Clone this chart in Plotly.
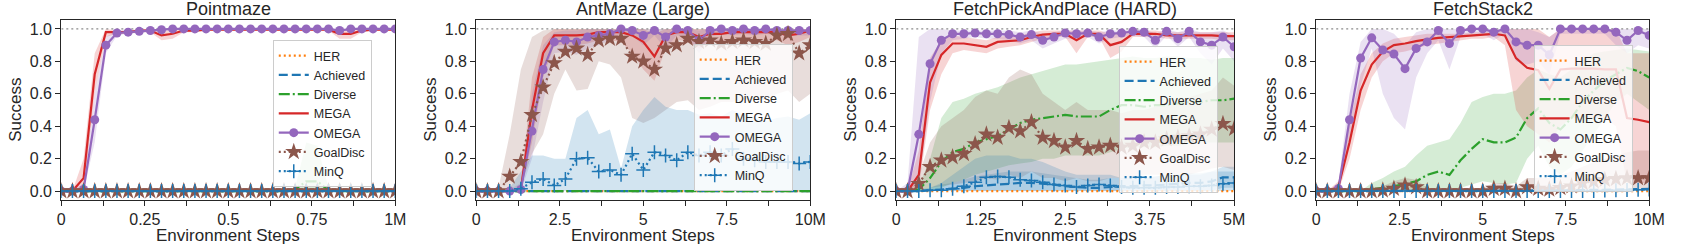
import plotly.graph_objects as go

# ---------------- data (success rate) ----------------
TITLES = ["Pointmaze", "AntMaze (Large)", "FetchPickAndPlace (HARD)", "FetchStack2"]
METHODS = ["HER", "Achieved", "Diverse", "MEGA", "OMEGA", "GoalDisc", "MinQ"]
X_MAX = [1.0, 10.0, 5.0, 10.0]          # millions of environment steps
N_POINTS = 31

X_TICKTEXT_1 = ["0", "", "0.25", "", "0.5", "", "0.75", "", "1M"]
X_TICKTEXT_2 = ["0", "", "2.5", "", "5", "", "7.5", "", "10M"]
X_TICKTEXT_3 = ["0", "", "1.25", "", "2.5", "", "3.75", "", "5M"]
X_TICKTEXT_4 = ["0", "", "2.5", "", "5", "", "7.5", "", "10M"]
Y_TICKVALS = [0.0, 0.2, 0.4, 0.6, 0.8, 1.0]
Y_TICKTEXT = ["0.0", "0.2", "0.4", "0.6", "0.8", "1.0"]

ZERO_31 = [0, 0, 0, 0, 0, 0, 0, 0, 0, 0, 0, 0, 0, 0, 0, 0, 0, 0, 0, 0, 0, 0, 0, 0, 0, 0, 0, 0, 0, 0, 0]

# ---- Pointmaze
P1_DIVERSE = [0, 0, 0, 0, 0, 0, 0, 0, 0, 0, 0, 0, 0, 0, 0, 0, 0, 0, 0, 0, 0, 0.01, 0.06, 0.06, 0.005, 0, 0, 0, 0, 0, 0]
P1_DIVERSE_HI = [0, 0, 0, 0, 0, 0, 0, 0, 0, 0, 0, 0, 0, 0, 0, 0, 0, 0, 0, 0, 0, 0.02, 0.3, 0.28, 0.02, 0, 0, 0, 0, 0, 0]
P1_MEGA = [0, 0, 0.08, 0.72, 0.98, 0.98, 0.98, 0.99, 0.99, 0.96, 0.97, 0.99, 0.99, 0.995, 0.995, 0.995, 0.995, 0.995, 0.995, 0.995, 0.995, 0.995, 0.995, 0.995, 0.995, 0.97, 0.97, 0.99, 0.995, 0.995, 0.995]
P1_MEGA_LO = [0, 0, 0.0, 0.6, 0.95, 0.97, 0.97, 0.98, 0.98, 0.93, 0.94, 0.98, 0.98, 0.99, 0.99, 0.99, 0.99, 0.99, 0.99, 0.99, 0.99, 0.99, 0.99, 0.99, 0.99, 0.94, 0.94, 0.98, 0.99, 0.99, 0.99]
P1_MEGA_HI = [0, 0, 0.2, 0.85, 1.0, 0.99, 0.99, 1.0, 1.0, 0.99, 0.99, 1.0, 1.0, 1.0, 1.0, 1.0, 1.0, 1.0, 1.0, 1.0, 1.0, 1.0, 1.0, 1.0, 1.0, 1.0, 1.0, 1.0, 1.0, 1.0, 1.0]
P1_OMEGA = [0, 0, 0.01, 0.44, 0.90, 0.975, 0.98, 0.985, 0.99, 0.995, 1.0, 1.0, 1.0, 1.0, 1.0, 1.0, 1.0, 1.0, 1.0, 1.0, 1.0, 1.0, 1.0, 1.0, 1.0, 0.99, 1.0, 1.0, 1.0, 1.0, 1.0]
P1_OMEGA_LO = [0, 0, 0, 0.3, 0.85, 0.96, 0.97, 0.975, 0.98, 0.99, 0.995, 0.995, 0.995, 0.995, 0.995, 0.995, 0.995, 0.995, 0.995, 0.995, 0.995, 0.995, 0.995, 0.995, 0.995, 0.98, 0.995, 0.995, 0.995, 0.995, 0.995]
P1_OMEGA_HI = [0, 0, 0.05, 0.6, 0.95, 0.99, 0.99, 0.995, 1.0, 1.0, 1.0, 1.0, 1.0, 1.0, 1.0, 1.0, 1.0, 1.0, 1.0, 1.0, 1.0, 1.0, 1.0, 1.0, 1.0, 1.0, 1.0, 1.0, 1.0, 1.0, 1.0]

# ---- AntMaze (Large)
P2_MEGA = [0, 0, 0, 0, 0.01, 0.5, 0.85, 0.96, 0.96, 0.96, 0.965, 0.98, 0.98, 0.98, 0.96, 0.92, 0.83, 0.96, 0.98, 0.98, 0.95, 0.97, 0.97, 0.98, 0.98, 0.98, 0.98, 0.98, 0.96, 0.97, 0.99]
P2_MEGA_LO = [0, 0, 0, 0, 0, 0.3, 0.7, 0.9, 0.9, 0.9, 0.91, 0.93, 0.93, 0.92, 0.85, 0.75, 0.68, 0.88, 0.93, 0.93, 0.88, 0.92, 0.92, 0.93, 0.93, 0.93, 0.93, 0.93, 0.9, 0.92, 0.95]
P2_MEGA_HI = [0, 0, 0, 0, 0.03, 0.7, 0.95, 1, 1, 1, 1, 1, 1, 1, 1, 1, 0.97, 1, 1, 1, 1, 1, 1, 1, 1, 1, 1, 1, 1, 1, 1]
P2_OMEGA = [0, 0, 0, 0, 0.01, 0.37, 0.75, 0.92, 0.93, 0.92, 0.95, 0.96, 0.97, 1.0, 0.99, 0.96, 0.99, 0.95, 1.0, 0.99, 0.93, 0.99, 1.0, 0.99, 1.0, 0.99, 1.0, 0.99, 0.99, 0.99, 0.99]
P2_OMEGA_LO = [0, 0, 0, 0, 0, 0.2, 0.55, 0.85, 0.86, 0.84, 0.88, 0.9, 0.93, 0.97, 0.96, 0.9, 0.96, 0.88, 0.96, 0.95, 0.85, 0.95, 0.97, 0.96, 0.97, 0.96, 0.97, 0.96, 0.96, 0.96, 0.96]
P2_OMEGA_HI = [0, 0, 0, 0.01, 0.05, 0.6, 0.9, 0.98, 0.99, 0.99, 1, 1, 1, 1, 1, 1, 1, 1, 1, 1, 0.99, 1, 1, 1, 1, 1, 1, 1, 1, 1, 1]
P2_GOALDISC = [0, 0, 0, 0.09, 0.18, 0.47, 0.64, 0.79, 0.86, 0.88, 0.84, 0.93, 0.94, 0.94, 0.83, 0.80, 0.75, 0.88, 0.90, 0.94, 0.92, 0.93, 0.91, 0.92, 0.93, 0.92, 0.91, 0.96, 0.97, 0.85, 0.90]
P2_GOALDISC_LO = [0, 0, 0, 0, 0.03, 0.23, 0.35, 0.6, 0.75, 0.62, 0.63, 0.8, 0.78, 0.7, 0.45, 0.42, 0.45, 0.5, 0.55, 0.56, 0.5, 0.52, 0.55, 0.55, 0.56, 0.57, 0.56, 0.6, 0.62, 0.55, 0.6]
P2_GOALDISC_HI = [0, 0, 0.02, 0.35, 0.75, 0.95, 0.99, 1, 1, 1, 1, 1, 1, 1, 1, 1, 1, 1, 1, 1, 1, 1, 1, 1, 1, 1, 1, 1, 1, 1, 1]
P2_MINQ = [0, 0, 0, 0, 0.015, 0.055, 0.075, 0.035, 0.075, 0.2, 0.205, 0.12, 0.13, 0.10, 0.23, 0.13, 0.24, 0.22, 0.19, 0.24, 0.22, 0.24, 0.22, 0.26, 0.2, 0.19, 0.18, 0.18, 0.18, 0.17, 0.18]
P2_MINQ_HI = [0, 0, 0, 0.02, 0.12, 0.22, 0.22, 0.2, 0.2, 0.45, 0.5, 0.35, 0.38, 0.14, 0.4, 0.5, 0.58, 0.52, 0.5, 0.5, 0.47, 0.48, 0.46, 0.5, 0.47, 0.45, 0.43, 0.45, 0.46, 0.44, 0.48]

# ---- FetchPickAndPlace (HARD)
P3_ACHIEVED = [0, 0, 0, 0.005, 0.01, 0.015, 0.02, 0.03, 0.035, 0.04, 0.045, 0.05, 0.05, 0.045, 0.04, 0.03, 0.025, 0.02, 0.02, 0.025, 0.03, 0.03, 0.035, 0.035, 0.04, 0.045, 0.05, 0.05, 0.06, 0.085, 0.085]
P3_ACHIEVED_LO = [0, 0, 0, 0, 0, 0, 0, 0, 0, 0, 0, 0, 0, 0, 0, 0, 0, 0, 0, 0, 0, 0, 0, 0, 0, 0, 0, 0, 0, 0.02, 0.02]
P3_ACHIEVED_HI = [0, 0, 0, 0.02, 0.04, 0.05, 0.07, 0.09, 0.1, 0.11, 0.12, 0.12, 0.12, 0.11, 0.1, 0.09, 0.08, 0.07, 0.07, 0.08, 0.08, 0.08, 0.09, 0.09, 0.1, 0.1, 0.11, 0.11, 0.12, 0.15, 0.15]
P3_DIVERSE = [0, 0, 0.01, 0.08, 0.18, 0.24, 0.26, 0.3, 0.32, 0.34, 0.38, 0.42, 0.44, 0.45, 0.46, 0.47, 0.46, 0.46, 0.46, 0.5, 0.53, 0.53, 0.52, 0.53, 0.53, 0.54, 0.55, 0.55, 0.56, 0.56, 0.57]
P3_DIVERSE_LO = [0, 0, 0, 0, 0.02, 0.05, 0.07, 0.1, 0.12, 0.14, 0.16, 0.17, 0.18, 0.2, 0.2, 0.22, 0.22, 0.22, 0.22, 0.24, 0.26, 0.27, 0.27, 0.27, 0.28, 0.28, 0.29, 0.3, 0.3, 0.3, 0.3]
P3_DIVERSE_HI = [0, 0, 0.03, 0.2, 0.45, 0.55, 0.57, 0.6, 0.62, 0.64, 0.67, 0.7, 0.72, 0.74, 0.76, 0.78, 0.78, 0.79, 0.8, 0.81, 0.82, 0.83, 0.82, 0.82, 0.83, 0.83, 0.82, 0.82, 0.81, 0.82, 0.82]
P3_MEGA = [0, 0, 0.1, 0.67, 0.84, 0.91, 0.91, 0.9, 0.89, 0.92, 0.925, 0.93, 0.95, 0.965, 0.97, 0.97, 0.93, 0.97, 0.97, 0.9, 0.92, 0.97, 0.97, 0.97, 0.96, 0.96, 0.96, 0.96, 0.96, 0.955, 0.955]
P3_MEGA_LO = [0, 0, 0.02, 0.5, 0.72, 0.85, 0.87, 0.86, 0.85, 0.88, 0.89, 0.9, 0.92, 0.94, 0.95, 0.95, 0.85, 0.95, 0.95, 0.82, 0.86, 0.95, 0.95, 0.95, 0.94, 0.94, 0.94, 0.94, 0.94, 0.93, 0.93]
P3_MEGA_HI = [0, 0, 0.25, 0.82, 0.93, 0.96, 0.95, 0.94, 0.93, 0.95, 0.96, 0.96, 0.98, 0.99, 0.99, 0.99, 0.99, 0.99, 0.99, 0.97, 0.98, 0.99, 0.99, 0.99, 0.98, 0.98, 0.98, 0.98, 0.98, 0.98, 0.98]
P3_OMEGA = [0, 0, 0.35, 0.785, 0.93, 0.97, 0.97, 0.975, 0.97, 0.97, 0.965, 0.95, 0.965, 0.93, 0.95, 0.975, 0.97, 0.975, 0.95, 0.97, 0.975, 0.985, 0.98, 0.93, 0.985, 0.94, 0.985, 0.92, 0.9, 0.95, 0.89]
P3_OMEGA_LO = [0, 0, 0.05, 0.55, 0.85, 0.93, 0.94, 0.95, 0.94, 0.94, 0.93, 0.91, 0.93, 0.88, 0.91, 0.94, 0.94, 0.95, 0.91, 0.94, 0.95, 0.96, 0.95, 0.88, 0.96, 0.89, 0.95, 0.85, 0.78, 0.88, 0.8]
P3_OMEGA_HI = [0, 0.05, 0.95, 1, 1, 0.99, 0.99, 0.99, 0.99, 0.99, 0.99, 0.98, 0.99, 0.97, 0.98, 0.99, 0.99, 0.99, 0.98, 0.99, 0.99, 1, 1, 0.97, 1, 0.98, 1, 0.98, 0.98, 0.99, 0.96]
P3_GOALDISC = [0, 0, 0.045, 0.15, 0.19, 0.21, 0.23, 0.29, 0.35, 0.33, 0.39, 0.37, 0.425, 0.33, 0.31, 0.27, 0.31, 0.26, 0.27, 0.28, 0.27, 0.28, 0.3, 0.3, 0.32, 0.33, 0.34, 0.35, 0.38, 0.415, 0.385]
P3_GOALDISC_LO = [0, 0, 0, 0.02, 0.03, 0.04, 0.05, 0.06, 0.08, 0.07, 0.1, 0.08, 0.12, 0.08, 0.08, 0.06, 0.08, 0.06, 0.06, 0.08, 0.08, 0.08, 0.1, 0.1, 0.1, 0.1, 0.1, 0.12, 0.14, 0.15, 0.13]
P3_GOALDISC_HI = [0, 0, 0.1, 0.3, 0.4, 0.45, 0.5, 0.58, 0.62, 0.6, 0.7, 0.75, 0.72, 0.6, 0.55, 0.5, 0.55, 0.5, 0.5, 0.5, 0.48, 0.5, 0.5, 0.52, 0.55, 0.55, 0.58, 0.6, 0.62, 0.7, 0.65]
P3_MINQ = [0, 0, 0, 0.005, 0.005, 0.015, 0.03, 0.055, 0.085, 0.09, 0.085, 0.07, 0.065, 0.055, 0.04, 0.035, 0.025, 0.035, 0.04, 0.035, 0.025, 0.02, 0.02, 0.02, 0.025, 0.025, 0.03, 0.03, 0.035, 0.045, 0.05]
P3_MINQ_HI = [0, 0, 0.01, 0.02, 0.05, 0.1, 0.15, 0.2, 0.22, 0.22, 0.22, 0.2, 0.2, 0.18, 0.15, 0.12, 0.1, 0.1, 0.1, 0.1, 0.08, 0.08, 0.08, 0.09, 0.1, 0.1, 0.1, 0.1, 0.12, 0.12, 0.12]

# ---- FetchStack2
P4_ACHIEVED = [0, 0, 0, 0, 0, 0, 0, 0, 0, 0, 0, 0, 0, 0, 0, 0, 0, 0, 0, 0, 0.002, 0.003, 0.004, 0.005, 0.006, 0.008, 0.01, 0.01, 0.012, 0.012, 0.013]
P4_DIVERSE = [0, 0, 0, 0, 0, 0.01, 0.02, 0.03, 0.045, 0.06, 0.1, 0.12, 0.1, 0.19, 0.26, 0.32, 0.3, 0.3, 0.33, 0.45, 0.51, 0.42, 0.38, 0.45, 0.55, 0.62, 0.68, 0.72, 0.76, 0.74, 0.7]
P4_DIVERSE_LO = [0, 0, 0, 0, 0, 0, 0, 0, 0, 0, 0, 0, 0, 0.02, 0.04, 0.06, 0.05, 0.04, 0.05, 0.2, 0.28, 0.15, 0.1, 0.15, 0.25, 0.35, 0.45, 0.55, 0.6, 0.55, 0.5]
P4_DIVERSE_HI = [0, 0, 0, 0, 0, 0.05, 0.08, 0.12, 0.15, 0.22, 0.28, 0.3, 0.32, 0.42, 0.55, 0.58, 0.6, 0.6, 0.62, 0.7, 0.75, 0.72, 0.7, 0.75, 0.8, 0.85, 0.86, 0.87, 0.88, 0.87, 0.86]
P4_MEGA = [0, 0, 0.025, 0.3, 0.62, 0.78, 0.86, 0.9, 0.91, 0.925, 0.935, 0.945, 0.95, 0.955, 0.96, 0.965, 0.97, 0.96, 0.82, 0.76, 0.745, 0.63, 0.75, 0.755, 0.755, 0.755, 0.75, 0.75, 0.45, 0.44, 0.425]
P4_MEGA_LO = [0, 0, 0, 0.2, 0.5, 0.7, 0.8, 0.85, 0.86, 0.88, 0.9, 0.91, 0.92, 0.93, 0.94, 0.94, 0.95, 0.9, 0.5, 0.4, 0.35, 0.3, 0.4, 0.45, 0.45, 0.45, 0.45, 0.4, 0.05, 0.05, 0.05]
P4_MEGA_HI = [0, 0, 0.06, 0.42, 0.72, 0.85, 0.91, 0.94, 0.95, 0.96, 0.97, 0.97, 0.97, 0.97, 0.98, 0.98, 0.99, 1, 1, 1, 1, 0.95, 1, 1, 1, 1, 1, 1, 0.85, 0.85, 0.85]
P4_OMEGA = [0, 0, 0.015, 0.44, 0.82, 0.945, 0.87, 0.845, 0.755, 0.88, 0.92, 0.99, 0.91, 0.99, 1.0, 1.0, 0.98, 1.0, 0.92, 0.9, 0.9, 0.84, 1.0, 1.0, 1.0, 1.0, 1.0, 0.98, 0.93, 0.99, 0.96]
P4_OMEGA_LO = [0, 0, 0, 0.3, 0.65, 0.88, 0.6, 0.45, 0.38, 0.7, 0.85, 0.93, 0.75, 0.95, 0.97, 0.97, 0.93, 0.97, 0.8, 0.78, 0.8, 0.72, 0.97, 0.97, 0.97, 0.97, 0.97, 0.9, 0.85, 0.9, 0.88]
P4_OMEGA_HI = [0, 0, 0.05, 0.6, 0.92, 1, 1, 0.97, 0.9, 0.98, 1, 1, 1, 1, 1, 1, 1, 1, 1, 1, 0.98, 0.95, 1, 1, 1, 1, 1, 1, 1, 1, 1]
P4_GOALDISC = [0, 0, 0, 0, 0, 0, 0.005, 0.015, 0.035, 0.025, 0, 0, 0, 0, 0, 0, 0.015, 0.015, 0, 0.025, 0.015, 0.01, 0.02, 0.03, 0.05, 0.06, 0.07, 0.075, 0.08, 0.08, 0.08]
P4_GOALDISC_HI = [0, 0, 0, 0, 0, 0.01, 0.03, 0.06, 0.08, 0.07, 0.02, 0.01, 0.01, 0.01, 0.01, 0.02, 0.05, 0.05, 0.03, 0.08, 0.08, 0.08, 0.1, 0.12, 0.15, 0.18, 0.2, 0.22, 0.24, 0.25, 0.25]
P4_MINQ = [0, 0, 0, 0, 0, 0, 0, 0, 0, 0, 0, 0, 0, 0, 0, 0, 0, 0, 0, 0, 0, 0, 0, 0, 0, 0, 0.003, 0.005, 0.006, 0.008, 0.01]

# table: panel -> method -> (mean, low, high) ; None band = no shading
PANELS = [
    {
        "HER": (ZERO_31, None, None),
        "Achieved": (ZERO_31, None, None),
        "Diverse": (P1_DIVERSE, ZERO_31, P1_DIVERSE_HI),
        "MEGA": (P1_MEGA, P1_MEGA_LO, P1_MEGA_HI),
        "OMEGA": (P1_OMEGA, P1_OMEGA_LO, P1_OMEGA_HI),
        "GoalDisc": (ZERO_31, None, None),
        "MinQ": (ZERO_31, None, None),
    },
    {
        "HER": (ZERO_31, None, None),
        "Achieved": (ZERO_31, None, None),
        "Diverse": (ZERO_31, None, None),
        "MEGA": (P2_MEGA, P2_MEGA_LO, P2_MEGA_HI),
        "OMEGA": (P2_OMEGA, P2_OMEGA_LO, P2_OMEGA_HI),
        "GoalDisc": (P2_GOALDISC, P2_GOALDISC_LO, P2_GOALDISC_HI),
        "MinQ": (P2_MINQ, ZERO_31, P2_MINQ_HI),
    },
    {
        "HER": (ZERO_31, None, None),
        "Achieved": (P3_ACHIEVED, P3_ACHIEVED_LO, P3_ACHIEVED_HI),
        "Diverse": (P3_DIVERSE, P3_DIVERSE_LO, P3_DIVERSE_HI),
        "MEGA": (P3_MEGA, P3_MEGA_LO, P3_MEGA_HI),
        "OMEGA": (P3_OMEGA, P3_OMEGA_LO, P3_OMEGA_HI),
        "GoalDisc": (P3_GOALDISC, P3_GOALDISC_LO, P3_GOALDISC_HI),
        "MinQ": (P3_MINQ, ZERO_31, P3_MINQ_HI),
    },
    {
        "HER": (ZERO_31, None, None),
        "Achieved": (P4_ACHIEVED, None, None),
        "Diverse": (P4_DIVERSE, P4_DIVERSE_LO, P4_DIVERSE_HI),
        "MEGA": (P4_MEGA, P4_MEGA_LO, P4_MEGA_HI),
        "OMEGA": (P4_OMEGA, P4_OMEGA_LO, P4_OMEGA_HI),
        "GoalDisc": (P4_GOALDISC, ZERO_31, P4_GOALDISC_HI),
        "MinQ": (P4_MINQ, None, None),
    },
]
X_TICKTEXTS = [X_TICKTEXT_1, X_TICKTEXT_2, X_TICKTEXT_3, X_TICKTEXT_4]

# ---------------- styling ----------------
W, H = 1683, 249
FONT = "Liberation Sans, Arial, Helvetica, sans-serif"
TXT = "#262626"
COLORS = {"HER": "#ff7f0e", "Achieved": "#1f77b4", "Diverse": "#2ca02c", "MEGA": "#d62728",
          "OMEGA": "#9467bd", "GoalDisc": "#8c564b", "MinQ": "#1f77b4"}
FILLS = {"HER": "rgba(255,127,14,0.2)", "Achieved": "rgba(31,119,180,0.2)", "Diverse": "rgba(44,160,44,0.2)",
         "MEGA": "rgba(214,39,40,0.2)", "OMEGA": "rgba(148,103,189,0.2)", "GoalDisc": "rgba(140,86,75,0.2)",
         "MinQ": "rgba(31,119,180,0.2)"}
DASH = {"HER": "2px,3px", "Achieved": "9px,4px", "Diverse": "11px,3px,2px,3px", "MEGA": "solid",
        "OMEGA": "solid", "GoalDisc": "2px,3px", "MinQ": "2px,3px"}
SYMBOL = {"OMEGA": ("circle", 9), "GoalDisc": ("star", 13), "MinQ": ("cross-thin", 10)}

PLOT_LEFT = [58, 478, 903, 1328]
PLOT_RIGHT = [396, 816, 1245, 1665]
PLOT_TOP, PLOT_BOTTOM = 20, 200
LEGEND_POS = [(272, 40), (698, 44), (1128, 46), (1548, 45)]

fig = go.Figure()
ydom = [1 - PLOT_BOTTOM / H, 1 - PLOT_TOP / H]

for p in range(4):
    k = "" if p == 0 else str(p + 1)
    xs = [X_MAX[p] * i / (N_POINTS - 1) for i in range(N_POINTS)]
    legname = "legend" + k
    data = PANELS[p]
    # bands
    for m in METHODS:
        mean, lo, hi = data[m]
        if lo is None:
            continue
        fig.add_trace(go.Scatter(
            x=xs + xs[::-1], y=list(hi) + list(lo)[::-1], fill="toself", fillcolor=FILLS[m],
            line=dict(width=0), mode="lines", hoverinfo="skip", showlegend=False,
            xaxis="x" + k, yaxis="y" + k))
    # reference line at 1.0
    fig.add_trace(go.Scatter(x=[0, X_MAX[p]], y=[1.0, 1.0], mode="lines",
                             line=dict(color="#8c8c8c", width=1.2, dash="2px,3px"),
                             showlegend=False, hoverinfo="skip", xaxis="x" + k, yaxis="y" + k))
    # lines
    for m in METHODS:
        mean = data[m][0]
        kw = dict(x=xs, y=mean, name=m, legend=legname, showlegend=True,
                  line=dict(color=COLORS[m], width=2.2, dash=DASH[m]),
                  xaxis="x" + k, yaxis="y" + k)
        if m in SYMBOL:
            sym, sz = SYMBOL[m]
            if sym == "cross-thin":
                kw["marker"] = dict(symbol=sym, size=sz, color=COLORS[m],
                                    line=dict(color=COLORS[m], width=1.5))
            else:
                kw["marker"] = dict(symbol=sym, size=sz, color=COLORS[m], line=dict(width=0))
            kw["mode"] = "lines+markers"
        else:
            kw["mode"] = "lines"
        fig.add_trace(go.Scatter(**kw))

    axis_common = dict(showline=True, linecolor=TXT, linewidth=1.2, mirror=True, ticks="outside",
                       ticklen=5, tickwidth=1.2, tickcolor=TXT, showgrid=False, zeroline=False,
                       tickfont=dict(family=FONT, size=16, color=TXT))
    xdom = [PLOT_LEFT[p] / W, PLOT_RIGHT[p] / W]
    fig.update_layout(**{
        "xaxis" + k: dict(domain=xdom, range=[0, X_MAX[p]], anchor="y" + k,
                          tickvals=[X_MAX[p] * j / 8 for j in range(9)], ticktext=X_TICKTEXTS[p],
                          **axis_common),
        "yaxis" + k: dict(domain=ydom, range=[-0.055, 1.055], anchor="x" + k,
                          tickvals=Y_TICKVALS, ticktext=Y_TICKTEXT, **axis_common),
        legname: dict(x=LEGEND_POS[p][0] / W, y=1 - LEGEND_POS[p][1] / H, xanchor="left", yanchor="top",
                      bgcolor="rgba(255,255,255,0.8)", bordercolor="#cccccc", borderwidth=1,
                      font=dict(family=FONT, size=12.5, color=TXT), tracegroupgap=0,
                      itemwidth=30),
    })
    cx = (PLOT_LEFT[p] + PLOT_RIGHT[p]) / 2 / W
    fig.add_annotation(text=TITLES[p], x=cx, y=1 - 9 / H, xref="paper", yref="paper",
                       xanchor="center", yanchor="middle", showarrow=False,
                       font=dict(family=FONT, size=18, color=TXT))
    fig.add_annotation(text="Environment Steps", x=cx, y=1 - 235 / H, xref="paper", yref="paper",
                       xanchor="center", yanchor="middle", showarrow=False,
                       font=dict(family=FONT, size=17, color=TXT))
    fig.add_annotation(text="Success", x=(PLOT_LEFT[p] - 46) / W, y=1 - 110 / H, xref="paper",
                       yref="paper", xanchor="center", yanchor="middle", textangle=-90,
                       showarrow=False, font=dict(family=FONT, size=17, color=TXT))

fig.update_layout(width=W, height=H, margin=dict(l=0, r=0, t=0, b=0),
                  plot_bgcolor="white", paper_bgcolor="white",
                  font=dict(family=FONT, color=TXT))
fig.write_html("out.html", config={"displayModeBar": False},
               post_script="document.body.style.margin='0';document.body.style.padding='0';"
                           "document.body.style.overflow='hidden';")
